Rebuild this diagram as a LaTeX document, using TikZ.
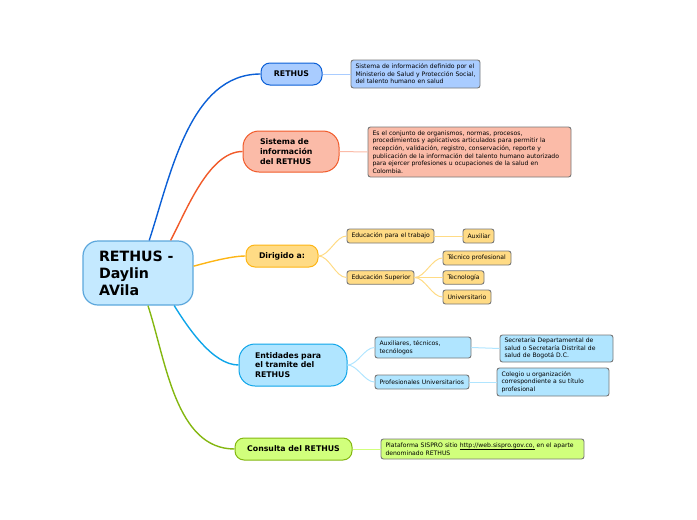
\documentclass[tikz,border=0pt]{standalone}
\usepackage{fontspec}
\setmainfont{DejaVu Sans}
\usepackage{tikz}
\definecolor{rootfill}{HTML}{C4E9FF}
\definecolor{rootline}{HTML}{5CA7DC}
\definecolor{bluefill}{HTML}{A9CCFF}
\definecolor{blueline}{HTML}{0B5FD6}
\definecolor{redfill}{HTML}{FBBBA8}
\definecolor{redline}{HTML}{F15A29}
\definecolor{yelfill}{HTML}{FFDB85}
\definecolor{yelline}{HTML}{FDB515}
\definecolor{skyfill}{HTML}{B0E5FF}
\definecolor{skyline}{HTML}{0EA5E9}
\definecolor{grnfill}{HTML}{D1FF7C}
\definecolor{grnline}{HTML}{84B711}
\definecolor{leafline}{HTML}{777777}
\tikzset{
  rootbox/.style={draw=rootline, fill=rootfill, line width=1.2pt, rounded corners=15pt, align=left,
    text width=78pt, inner xsep=16pt, minimum height=64pt, font=\fontsize{14.2}{17}\selectfont\bfseries},
  topic/.style={line width=1pt, rounded corners=9pt, align=left, inner sep=0pt, font=\fontsize{7.8}{9.6}\selectfont\bfseries},
  leaf/.style={draw=leafline, line width=0.9pt, rounded corners=2.5pt, align=left, inner ysep=0pt, inner xsep=4.5pt,
    text width=#1, font=\fontsize{6.1}{7.6}\selectfont},
  branch/.style={line width=1.4pt},
  twig/.style={line width=1pt}
}
\begin{document}
\begin{tikzpicture}[x=1pt,y=-1pt]
\useasboundingbox (0,0) rectangle (697,520);
\node (root) at (138,273)[rootbox]{RETHUS -\\Daylin\\AVila};
\node (rethus) at (291.5,74)[topic, draw=blueline, fill=bluefill, minimum width=61pt, minimum height=22pt, align=center]{RETHUS};
\node (sistema) at (291,151.5)[topic, draw=redline, fill=redfill, minimum height=41pt, rounded corners=16pt, text width=62pt, inner xsep=17pt]{Sistema de\\información\\del RETHUS};
\node (dirigido) at (282,256)[topic, draw=yelline, fill=yelfill, minimum width=72pt, minimum height=22pt, align=center]{Dirigido a:};
\node (entidades) at (293,365)[topic, draw=skyline, fill=skyfill, minimum height=42pt, rounded corners=16pt, text width=76pt, inner xsep=16pt]{Entidades para\\el tramite del\\RETHUS};
\node (consulta) at (293.5,449)[topic, draw=grnline, fill=grnfill, minimum width=117pt, minimum height=22pt, align=center]{Consulta del RETHUS};
\node (defrethus) at (415.5,74)[leaf=120pt, fill=bluefill, minimum height=28pt]{Sistema de información definido por el\\\mbox{Ministerio de Salud y Protección Social,}\\del talento humano en salud};
\node (defsistema) at (469.5,152)[leaf=194pt, fill=redfill, minimum height=50pt]{Es el conjunto de organismos, normas, procesos,\\procedimientos y aplicativos articulados para permitir la\\recepción, validación, registro, conservación, reporte y\\publicación de la información del talento humano autorizado\\para ejercer profesiones u ocupaciones de la salud en\\Colombia.};
\node (trabajo) at (390.5,236)[leaf=78pt, fill=yelfill, minimum height=14pt]{\mbox{Educación para el trabajo}};
\node (auxiliar) at (478.5,236)[leaf=22pt, fill=yelfill, minimum height=14pt]{Auxiliar};
\node (superior) at (380.5,277.5)[leaf=58pt, fill=yelfill, minimum height=13.5pt]{\mbox{Educación Superior}};
\node (tecnico) at (477,258)[leaf=59pt, fill=yelfill, minimum height=14pt]{\mbox{Técnico profesional}};
\node (tecnologia) at (463.5,277.5)[leaf=32pt, fill=yelfill, minimum height=13.5pt]{Tecnología};
\node (universitario) at (467,297)[leaf=39pt, fill=yelfill, minimum height=14pt]{Universitario};
\node (auxiliares) at (423,347.5)[leaf=87pt, fill=skyfill, minimum height=21pt]{Auxiliares, técnicos,\\tecnólogos};
\node (secretaria) at (556.5,348.5)[leaf=104pt, fill=skyfill, minimum height=27pt]{Secretaria Departamental de\\salud o Secretaría Distrital de\\salud de Bogotá D.C.};
\node (profesionales) at (422,382)[leaf=85pt, fill=skyfill, minimum height=14pt]{\mbox{Profesionales Universitarios}};
\node (colegio) at (553,382)[leaf=103pt, fill=skyfill, minimum height=28pt]{Colegio u organización\\correspondiente a su título\\profesional};
\node (sispro) at (482.5,449)[leaf=194pt, fill=grnfill, minimum height=20pt]{Plataforma SISPRO sitio \underline{\smash{http://web.sispro.gov.co,}} en el aparte\\denominado RETHUS};
\draw [blueline, branch] (root.71) to [out=72, in=180, looseness=0.9] (rethus.west);
\draw [redline, branch] (root.45) to [out=62, in=180, looseness=0.75] (sistema.west);
\draw [yelline, branch] (root.7) to [out=15, in=180, looseness=0.7] (dirigido.west);
\draw [skyline, branch] (root.-42) to [out=-58, in=180, looseness=0.75] (entidades.west);
\draw [grnline, branch] (root.-73) to [out=-72, in=180, looseness=0.9] (consulta.west);
\draw [bluefill, twig] (rethus.east) -- (defrethus.west);
\draw [redfill, twig] (sistema.east) -- (defsistema.west);
\draw [yelfill, twig] (dirigido.east) to [out=0, in=180, looseness=0.8] (trabajo.west);
\draw [yelfill, twig] (dirigido.east) to [out=0, in=180, looseness=0.8] (superior.west);
\draw [yelfill, twig] (trabajo.east) -- (auxiliar.west);
\draw [yelfill, twig] (superior.east) to [out=0, in=180, looseness=0.8] (tecnico.west);
\draw [yelfill, twig] (superior.east) -- (tecnologia.west);
\draw [yelfill, twig] (superior.east) to [out=0, in=180, looseness=0.8] (universitario.west);
\draw [skyfill, twig] (entidades.east) to [out=0, in=180, looseness=0.8] (auxiliares.west);
\draw [skyfill, twig] (entidades.east) to [out=0, in=180, looseness=0.8] (profesionales.west);
\draw [skyfill, twig] (auxiliares.east) -- (secretaria.west);
\draw [skyfill, twig] (profesionales.east) -- (colegio.west);
\draw [grnfill, twig] (consulta.east) -- (sispro.west);
\end{tikzpicture}
\end{document}
